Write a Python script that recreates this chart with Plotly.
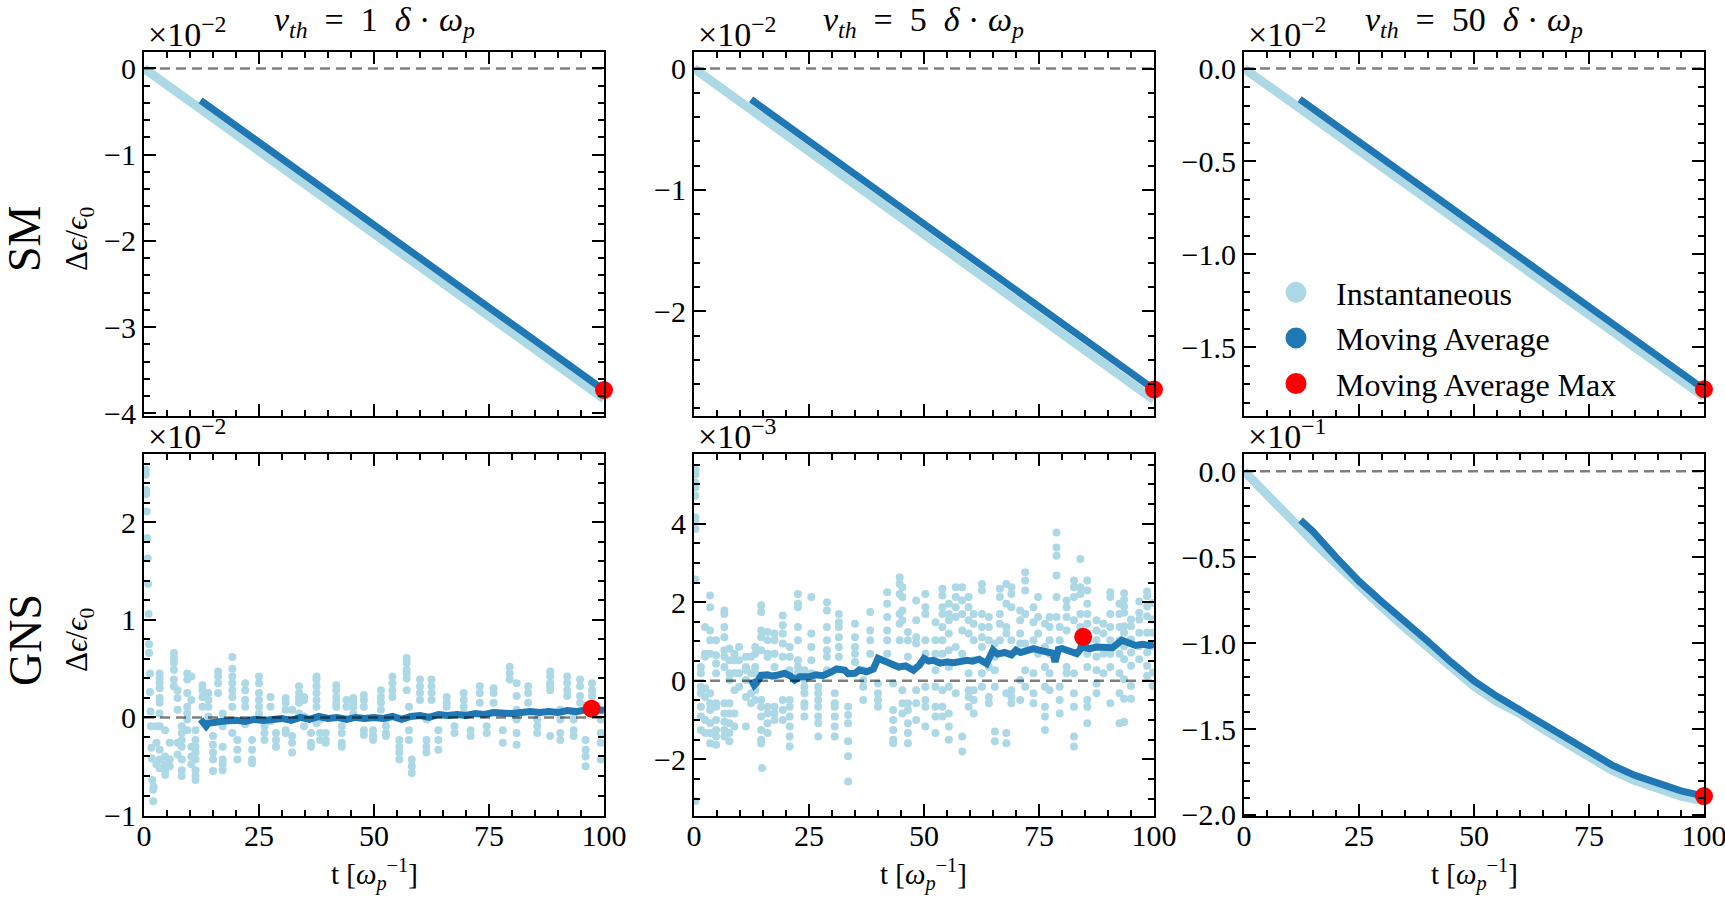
import plotly.graph_objects as go

FONT = "Liberation Serif"
C_INST = "#ADD8E6"
C_MA = "#1F77B4"
C_MAX = "#FF0000"
NB = "\u00a0"

# ---------------- data (values in units of the axis multiplier) ----------------
TIME_TICKS = [0, 25, 50, 75, 100]
COLUMN_TITLES = ["1", "5", "50"]
ROW_NAMES = ["SM", "GNS"]
EXPONENTS = ["−2", "−2", "−2", "−2", "−3", "−1"]

# SM, v_th = 1  (x 1e-2)
SM1_T = [0, 25, 50, 75, 100]
SM1_INST = [0.0, -0.96, -1.91, -2.87, -3.83]
SM1_MA_T = [12.3, 25, 50, 75, 100]
SM1_MA = [-0.37, -0.86, -1.82, -2.77, -3.73]
SM1_MAX = (100, -3.73)

# SM, v_th = 5  (x 1e-2)
SM5_T = [0, 25, 50, 75, 100]
SM5_INST = [0.0, -0.68, -1.36, -2.05, -2.73]
SM5_MA_T = [12.4, 25, 50, 75, 100]
SM5_MA = [-0.255, -0.60, -1.28, -1.96, -2.644]
SM5_MAX = (100, -2.644)

# SM, v_th = 50  (x 1e-2)
SM50_T = [0, 25, 50, 75, 100]
SM50_INST = [0.0, -0.44, -0.88, -1.32, -1.765]
SM50_MA_T = [12.1, 25, 50, 75, 100]
SM50_MA = [-0.165, -0.394, -0.838, -1.282, -1.726]
SM50_MAX = (100, -1.726)

# GNS, v_th = 1  (x 1e-2): instantaneous samples grouped by time
GNS1_INST = [
    (0.4, [2.54, 2.49]), (0.5, [2.33, 2.29]), (0.6, [2.11]), (0.7, [1.84]), (0.8, [1.63]),
    (0.9, [1.37]), (1.0, [1.06]), (1.1, [0.75, 0.66]), (1.3, [0.45, 0.26]), (1.4, [0.06]),
    (1.5, [-0.09]), (1.6, [-0.31]), (1.7, [-0.42]), (1.8, [-0.64]), (2.0, [-0.74, -0.86]),
    (2.1, [-0.71]), (2.7, [-0.09, -0.26, -0.48]),
    (3.4, [0.45, 0.40, 0.35, 0.30, 0.20, 0.15, 0.04, -0.09, -0.33, -0.43, -0.52]),
    (4.6, [-0.13, -0.40, -0.48, -0.54, -0.59]), (5.6, [-0.26, -0.43, -0.50]),
    (6.5, [0.66, 0.61, 0.56, 0.49, 0.39, 0.32]), (7.3, [0.28, 0.20, 0.08, -0.26, -0.38]),
    (8.2, [-0.09, -0.16, -0.23, -0.30, -0.43, -0.54, -0.60]),
    (9.4, [0.45, 0.39, 0.25, 0.11, 0.04, -0.02, -0.13]), (10.3, [0.42, 0.18, -0.30, -0.40, -0.48]),
    (11.2, [-0.13, -0.23, -0.30, -0.36, -0.43, -0.54, -0.60, -0.64]),
    (12.7, [0.33, 0.28, 0.21, 0.11]), (14.0, [0.25, 0.18, 0.11, 0.01]),
    (15.0, [-0.19, -0.28, -0.36, -0.43, -0.55]), (16.1, [0.47, 0.42, 0.35, 0.25]),
    (17.1, [0.04, -0.09, -0.30, -0.43, -0.48, -0.54]),
    (19.2, [0.62, 0.50, 0.42, 0.35, 0.28, 0.21, 0.11, -0.16]), (20.3, [-0.23, -0.33, -0.43]),
    (22.0, [0.35, 0.28, 0.18, 0.11, -0.07]), (23.5, [-0.23, -0.33, -0.43, -0.47]),
    (25.0, [0.42, 0.35, 0.25, 0.18, 0.11, 0.04]), (26.2, [-0.09, -0.16, -0.23]),
    (27.5, [0.21, 0.11, -0.04]), (28.7, [-0.16, -0.23, -0.30]),
    (30.8, [0.20, 0.15, 0.08, -0.13, -0.16]), (32.2, [0.08, -0.19, -0.26, -0.36]),
    (33.7, [0.32, 0.25, 0.20, 0.15, 0.04]), (34.8, [0.21, 0.18, 0.01, -0.09]),
    (36.3, [-0.16, -0.26, -0.30]),
    (37.5, [0.42, 0.39, 0.32, 0.25, 0.18, 0.11, -0.06]), (38.3, [-0.02, -0.16, -0.23]),
    (39.5, [-0.16, -0.23, -0.26]), (41.8, [0.33, 0.28, 0.21, 0.15, 0.11]),
    (43.0, [-0.09, -0.16, -0.26, -0.30]), (44.0, [0.18, 0.11]),
    (45.5, [0.20, 0.15, 0.11, 0.04]), (47.8, [0.23, 0.18, 0.11, -0.13, -0.18]),
    (49.8, [-0.13, -0.19, -0.23]), (51.5, [0.28, 0.21, 0.15, 0.08]),
    (52.6, [-0.02, -0.09, -0.16, -0.19]), (54.0, [0.42, 0.35, 0.28, 0.21]),
    (55.5, [-0.23, -0.30, -0.36, -0.43]), (57.1, [0.61, 0.56, 0.49, 0.45, 0.40, 0.28]),
    (57.6, [0.11, -0.13, -0.23]), (58.2, [-0.43, -0.50, -0.57]),
    (60.0, [0.39, 0.32, 0.25, 0.18]), (61.4, [-0.02, -0.23, -0.30, -0.36]),
    (62.5, [0.39, 0.32, 0.25, 0.18]), (64.0, [-0.13, -0.23, -0.33]),
    (65.8, [0.21, 0.15, 0.11]), (67.5, [-0.09, -0.16]), (69.5, [0.25, 0.18, 0.11, 0.04]),
    (71.0, [-0.13, -0.19]), (73.0, [0.32, 0.25, 0.15]), (74.5, [-0.09, -0.16]),
    (76.0, [0.30, 0.25, 0.15]), (78.0, [-0.13, -0.26]), (79.5, [0.52, 0.45, 0.39]),
    (81.0, [0.35, 0.22, 0.08, -0.02, -0.16, -0.28]), (83.5, [0.32, 0.25, 0.15]),
    (85.5, [-0.02, -0.09, -0.16]), (88.3, [0.47, 0.42, 0.35, 0.32, 0.28, -0.19]),
    (90.5, [0.08, -0.02, -0.16, -0.23]), (92.0, [0.42, 0.35, 0.28, 0.22]),
    (93.4, [0.04, -0.02, -0.13, -0.19]), (94.8, [0.39, 0.32, 0.22, 0.15]),
    (96.0, [-0.23, -0.33, -0.40, -0.50]), (97.4, [0.35, 0.28, 0.22, 0.15]),
    (99.3, [0.08, -0.02, -0.16, -0.26, -0.43]),
]
GNS1_MA_T = [12.3, 13.0, 13.5, 14, 15, 17, 20, 22, 24, 26, 28, 30, 32, 34, 36, 38, 40, 42, 44,
             46, 48, 50, 52, 54, 56, 58, 60, 62, 64, 66, 68, 70, 72, 74, 76, 78, 80, 82, 84, 86,
             88, 90, 92, 94, 96, 97.3, 100]
GNS1_MA = [-0.02, -0.07, -0.09, -0.06, -0.05, -0.04, -0.03, -0.04, -0.02, -0.03, -0.02, -0.01,
           -0.03, 0.0, -0.02, 0.01, -0.01, 0.0, -0.02, 0.0, -0.01, 0.0, -0.01, 0.01, -0.02, 0.01,
           0.02, 0.0, 0.03, 0.02, 0.03, 0.02, 0.04, 0.03, 0.05, 0.04, 0.04, 0.05, 0.06, 0.05, 0.06,
           0.05, 0.07, 0.06, 0.07, 0.09, 0.07]
GNS1_MAX = (97.3, 0.09)

# GNS, v_th = 5  (x 1e-3)
GNS5_INST = [
    (0.3, [5.37, 5.25, 5.04, 4.92, 4.71, 4.16, 4.07, 3.86, 2.58, -3.06]),
    (1.5, [0.35, 0.19, -0.15, -0.32, -0.66, -0.91, -1.25]),
    (2.4, [1.37, 0.69, 0.61, -0.19, -0.41, -1.00, -1.33]),
    (3.5, [2.17, 1.87, 1.28, 1.03, 0.69, -0.32, -0.57, -0.74, -1.08, -1.33, -1.59]),
    (4.8, [1.03, 0.65, 0.44, 0.19, -0.57, -0.66, -1.00, -1.25, -1.42, -1.63]),
    (6.6, [1.79, 1.70, 1.37, 1.11, 0.78, 0.61, 0.35, -0.57, -0.83, -1.04, -1.25, -1.42]),
    (7.7, [0.82, 0.52, 0.19, 0.02, -0.57, -0.83, -1.08, -1.33, -1.54]),
    (8.8, [0.69, 0.52, 0.19, -0.24, -0.83, -1.16]),
    (9.8, [0.86, 0.52, 0.19, -0.15]),
    (11.3, [0.61, 0.35, 0.27, 0.02, -0.41, -1.16]),
    (12.4, [0.61, 0.19, -0.32, -0.57]),
    (13.3, [0.86, 0.69, 0.35, 0.19, -0.24, -0.49]),
    (14.6, [1.92, 1.75, 1.28, 1.11, 0.78, -0.49, -0.66, -0.91, -1.25, -1.50, -1.59]),
    (14.8, [-2.22]),
    (16.0, [1.24, 1.03, 0.69, 0.61, -0.66, -0.83, -1.08, -1.33]),
    (17.5, [1.20, 1.03, 0.69, 0.35, -0.66, -0.83, -1.00]),
    (19.3, [1.66, 1.41, 1.20, 0.95, 0.61, -0.49, -0.74, -1.00]),
    (20.8, [0.86, 0.61, 0.27, -0.49, -0.66, -0.91, -1.16, -1.42, -1.67]),
    (22.6, [2.21, 1.96, 1.87, 1.37, 1.03, 0.52, 0.35, 0.19]),
    (24.0, [0.27, 0.02, -0.15, -0.32, -0.57, -0.66, -0.91]),
    (25.5, [2.13, 1.20, 0.86, 0.52, 0.19]),
    (27.0, [-0.15, -0.32, -0.49, -0.66, -0.91, -1.08, -1.42]),
    (28.9, [2.00, 1.79, 1.37, 1.03, 0.78, 0.61, 0.27]),
    (30.6, [-0.32, -0.57, -0.66, -0.91, -1.16, -1.42]),
    (31.5, [1.70, 1.49, 1.37, 1.11, 0.86, 0.61]),
    (33.5, [-0.66, -0.87, -1.08, -1.54, -1.92, -2.56]),
    (35.0, [1.45, 1.11, 0.86, 0.69, 0.48]),
    (36.8, [0.27, 0.02, -0.15, -0.49]),
    (38.3, [1.75, 1.28, 1.03, 0.69]),
    (40.0, [-0.07, -0.32, -0.49, -0.66]),
    (42.0, [2.25, 1.96, 1.62, 1.28, 1.03, 0.69]),
    (43.3, [-0.07, -0.74, -1.00, -1.25, -1.50, -1.59]),
    (44.7, [2.63, 2.46, 2.21, 1.70, 1.45, 1.03]),
    (45.3, [2.38, 2.13, 1.79, 1.54, -0.24, -0.57, -0.83]),
    (46.5, [1.24, 1.03, 0.61, -0.57, -0.74, -1.08, -1.33, -1.59]),
    (48.3, [2.04, 1.54, 1.11, 0.95, -0.24, -0.57, -1.00]),
    (50.3, [2.21, 1.87, 1.70, 1.03, 0.69, -0.15, -0.49, -0.66, -1.16]),
    (52.5, [1.49, 1.03, 0.69, 0.27, -0.15, -0.66, -0.91, -1.33]),
    (54.0, [2.34, 2.17, 1.87, 1.70, 1.37, 1.03, 0.69, -0.24, -0.66, -0.91]),
    (55.4, [1.96, 1.70, 1.54, 1.20, 0.78, 0.35, -0.15, -0.83, -1.16, -1.50]),
    (56.9, [2.38, 2.13, 1.87, 1.62, 0.86, -0.32]),
    (58.3, [2.38, 2.04, 1.70, 1.28, 0.69, -1.42, -1.80]),
    (59.7, [2.13, 1.87, 1.54, 1.20, 0.19, -0.24, -0.41, -0.66]),
    (60.8, [1.70, 1.45, 1.03, 0.52, -0.24, -0.49, -0.83]),
    (62.6, [2.46, 2.30, 1.70, 1.37, 1.11, 0.86, 0.19, -0.15]),
    (64.1, [1.62, 1.37, 1.03, 0.35, -0.41, -0.57]),
    (65.4, [0.95, 0.61, 0.27, -0.15, -1.29, -1.54]),
    (66.5, [2.34, 2.13, 1.70, 1.45, 1.03]),
    (67.9, [2.46, 1.96, 1.37, 1.20, -0.32, -1.33, -1.59]),
    (69.0, [2.38, 2.21, 1.87, 1.03, 0.69, -0.24, -0.41, -0.57]),
    (70.9, [1.79, 1.54, 1.20, 0.95, 0.02, -0.49]),
    (72.0, [2.76, 2.55, 2.30, 1.70, 0.95, 0.27, -0.15]),
    (73.8, [1.87, 1.49, 1.03, 0.19, -0.32, -0.57]),
    (74.8, [2.13, 1.62, 1.20, 0.69]),
    (76.3, [1.45, 0.86, 0.35, -0.15, -0.66, -0.91, -1.25]),
    (77.3, [1.62, 1.37, 1.03, 0.69, 0.19, -0.24]),
    (78.8, [3.77, 3.39, 3.18, 2.68, 2.13, 1.62]),
    (79.5, [1.37, 1.03, -0.15, -0.49, -0.83]),
    (81.0, [2.04, 1.87, 1.62, 1.28, 0.35, 0.19]),
    (82.6, [2.55, 2.38, 2.13, 1.54, 0.19, -0.32, -0.66, -1.42, -1.67]),
    (84.0, [3.10, 2.38, 2.21, 1.70, 1.37]),
    (85.5, [2.55, 2.30, 1.96, 1.70, 1.45, 1.03, 0.69, 0.35, -0.49, -0.66, -1.08]),
    (87.5, [1.54, 1.28, 1.03, 0.61, 0.27, -0.07, -0.32]),
    (89.0, [1.45, 1.20, 0.69, 0.19]),
    (90.5, [2.25, 2.13, 1.70, 1.37, 1.03, 0.69, 0.35, -0.57]),
    (92.5, [1.96, 1.70, 1.37, 1.03, 0.69, 0.19, -0.32, -1.08]),
    (93.5, [2.23, 2.06, 1.89, 1.73, 1.39, 1.22, 0.88, 0.55, 0.04, -0.46, -1.05]),
    (95.0, [1.56, 1.39, 1.05, 0.72, 0.38, -0.13, -0.46]),
    (96.8, [2.02, 1.73, 1.56, 1.22, 0.88, 0.55]),
    (98.5, [2.27, 2.15, 1.89, 1.64, 1.22, 0.72, 0.38, 0.13]),
    (99.7, [1.98, 1.56, 1.22, 0.88, 0.21, -0.13]),
]
GNS5_MA_T = [12.5, 13.1, 13.6, 14.6, 16, 17, 18, 19.7, 21, 21.9, 23, 25, 26.5, 28, 29.9, 31,
             32.8, 33.5, 35, 36, 37.5, 39, 40, 41, 42.3, 43.5, 44.5, 46, 47.7, 49, 50, 51, 52,
             53.5, 55, 56.5, 58, 59.3, 60.5, 62, 63.6, 65, 66, 67.5, 69, 70, 71, 72.5, 73.8, 75,
             76.7, 78, 78.5, 79.2, 80, 81.5, 83.2, 84, 84.6, 85.2, 86, 87.5, 89.7, 91, 93, 94.5,
             96, 97.5, 99, 100]
GNS5_MA = [0.02, -0.11, -0.05, 0.14, 0.15, 0.12, 0.14, 0.19, 0.12, 0.02, 0.10, 0.10, 0.15, 0.13,
           0.23, 0.30, 0.27, 0.18, 0.19, 0.28, 0.23, 0.30, 0.57, 0.52, 0.44, 0.40, 0.35, 0.38,
           0.27, 0.40, 0.57, 0.50, 0.52, 0.45, 0.48, 0.46, 0.50, 0.52, 0.50, 0.55, 0.44, 0.78,
           0.68, 0.72, 0.66, 0.78, 0.72, 0.76, 0.82, 0.78, 0.73, 0.70, 0.48, 0.80, 0.82, 0.74,
           0.69, 0.80, 1.11, 0.84, 0.82, 0.86, 0.86, 0.84, 1.03, 0.95, 0.90, 0.93, 0.90, 0.93]
GNS5_MAX = (84.6, 1.12)

# GNS, v_th = 50  (x 1e-1)
GNS50_T = [0, 5, 10, 12.5, 15, 20, 25, 30, 35, 40, 45, 50, 55, 60, 65, 70, 75, 80, 85, 90, 95, 100]
GNS50_INST = [0.0, -0.13, -0.27, -0.34, -0.41, -0.54, -0.67, -0.79, -0.91, -1.02, -1.14, -1.25,
              -1.34, -1.41, -1.50, -1.58, -1.67, -1.74, -1.80, -1.85, -1.89, -1.92]
GNS50_MA_T = [12.3, 15, 20, 25, 30, 35, 40, 45, 50, 55, 60, 65, 70, 75, 80, 85, 90, 95, 100]
GNS50_MA = [-0.285, -0.35, -0.50, -0.64, -0.76, -0.87, -0.99, -1.11, -1.22, -1.31, -1.39, -1.47,
            -1.56, -1.64, -1.71, -1.77, -1.82, -1.86, -1.89]
GNS50_MAX = (100, -1.89)

# ---------------- axis settings per panel ----------------
Y_RANGES = [[-4.03, 0.19], [-2.863, 0.136], [-1.87, 0.089],
            [-1.01, 2.70], [-3.44, 5.77], [-2.006, 0.10]]
Y_TICKS = [[0, -1, -2, -3, -4], [0, -1, -2], [0, -0.5, -1.0, -1.5],
           [-1, 0, 1, 2], [-2, 0, 2, 4], [0, -0.5, -1.0, -1.5, -2.0]]
Y_FMT = ["", "", ".1f", "", "", ".1f"]
Y_MINOR = [0.2, 0.2, 0.1, 0.2, 0.5, 0.1]

W, H = 1725, 898
COL_PX = [(144, 604), (694, 1154), (1244, 1704)]
ROW_PX = [(52, 416), (454, 816)]


def flatten(groups):
    xs, ys = [], []
    for t, vals in groups:
        for v in vals:
            xs.append(t)
            ys.append(v)
    return xs, ys


fig = go.Figure()


def add_panel(i, inst_x, inst_y, inst_mode, ma_x, ma_y, mx):
    xa, ya = ("x" if i == 1 else f"x{i}"), ("y" if i == 1 else f"y{i}")
    if inst_mode == "markers":
        fig.add_trace(go.Scatter(x=inst_x, y=inst_y, mode="markers", xaxis=xa, yaxis=ya,
                                 marker=dict(color=C_INST, size=8, line=dict(width=0)),
                                 showlegend=False))
    else:
        fig.add_trace(go.Scatter(x=inst_x, y=inst_y, mode="lines", xaxis=xa, yaxis=ya,
                                 line=dict(color=C_INST, width=9), showlegend=False))
    fig.add_trace(go.Scatter(x=ma_x, y=ma_y, mode="lines", xaxis=xa, yaxis=ya,
                             line=dict(color=C_MA, width=7), showlegend=False))
    fig.add_trace(go.Scatter(x=[TIME_TICKS[0], TIME_TICKS[-1]], y=[0, 0], mode="lines",
                             xaxis=xa, yaxis=ya,
                             line=dict(color="rgba(0,0,0,0.5)", width=2.5, dash="10px,6px"),
                             showlegend=False))
    fig.add_trace(go.Scatter(x=[mx[0]], y=[mx[1]], mode="markers", xaxis=xa, yaxis=ya,
                             marker=dict(color=C_MAX, size=18), showlegend=False,
                             cliponaxis=False))


add_panel(1, SM1_T, SM1_INST, "lines", SM1_MA_T, SM1_MA, SM1_MAX)
add_panel(2, SM5_T, SM5_INST, "lines", SM5_MA_T, SM5_MA, SM5_MAX)
add_panel(3, SM50_T, SM50_INST, "lines", SM50_MA_T, SM50_MA, SM50_MAX)
g1x, g1y = flatten(GNS1_INST)
add_panel(4, g1x, g1y, "markers", GNS1_MA_T, GNS1_MA, GNS1_MAX)
g5x, g5y = flatten(GNS5_INST)
add_panel(5, g5x, g5y, "markers", GNS5_MA_T, GNS5_MA, GNS5_MAX)
add_panel(6, GNS50_T, GNS50_INST, "lines", GNS50_MA_T, GNS50_MA, GNS50_MAX)

# legend-only entries (shown in the top-right panel)
for k, (name, col) in enumerate([("Instantaneous", C_INST), ("Moving Average", C_MA),
                                 ("Moving Average Max", C_MAX)]):
    fig.add_trace(go.Scatter(x=[None], y=[None], mode="markers", name=name, xaxis="x3", yaxis="y3",
                             legendgroup=f"g{k}",
                             marker=dict(color=col, size=16, line=dict(color=col, width=5))))

tickfont = dict(family=FONT, size=30, color="black")
layout = dict(width=W, height=H, template="none",
              margin=dict(l=0, r=0, t=0, b=0, autoexpand=False),
              paper_bgcolor="white", plot_bgcolor="white",
              font=dict(family=FONT, color="black", size=28),
              showlegend=True,
              legend=dict(x=1256 / W, y=1 - 265 / H, xanchor="left", yanchor="top",
                          bgcolor="rgba(0,0,0,0)", borderwidth=0,
                          font=dict(family=FONT, size=32, color="black"),
                          tracegroupgap=1, itemwidth=70))

for i in range(1, 7):
    r, c = (i - 1) // 3, (i - 1) % 3
    x0, x1 = COL_PX[c]
    ytop, ybot = ROW_PX[r]
    xd = [x0 / W, x1 / W]
    yd = [1 - ybot / H, 1 - ytop / H]
    sfx = "" if i == 1 else str(i)
    layout[f"xaxis{sfx}"] = dict(
        domain=xd, anchor=f"y{sfx}", range=[0, 100], tickmode="array", tickvals=TIME_TICKS,
        ticks="inside", ticklen=12, tickwidth=2, tickcolor="black", showline=True,
        linecolor="black", linewidth=2, mirror="ticks", showgrid=False, zeroline=False,
        automargin=False, showticklabels=(r == 1), tickfont=tickfont,
        ticklabeloverflow="allow", ticklabelstandoff=-8,
        minor=dict(tickmode="linear", tick0=0, dtick=5, ticks="inside", ticklen=6,
                   tickwidth=1.5, tickcolor="black", showgrid=False))
    layout[f"yaxis{sfx}"] = dict(
        domain=yd, anchor=f"x{sfx}", range=Y_RANGES[i - 1], tickmode="array",
        tickvals=Y_TICKS[i - 1], tickformat=Y_FMT[i - 1],
        ticks="inside", ticklen=12, tickwidth=2, tickcolor="black", showline=True,
        linecolor="black", linewidth=2, mirror="ticks", showgrid=False, zeroline=False,
        automargin=False, tickfont=tickfont, ticklabeloverflow="allow",
        minor=dict(tickmode="linear", tick0=0, dtick=Y_MINOR[i - 1], ticks="inside", ticklen=6,
                   tickwidth=1.5, tickcolor="black", showgrid=False))

fig.update_layout(**layout)

ann = []
for c in range(3):
    x0, x1 = COL_PX[c]
    xc = (x0 + x1) / 2 / W
    title = (f"<i>v</i><sub><i>th</i></sub>{NB}{NB}={NB}{NB}{COLUMN_TITLES[c]}{NB}{NB}"
             f"<i>δ</i>{NB}·{NB}<i>ω</i><sub><i>p</i></sub>")
    ann.append(dict(text=title, x=xc, y=1 - 22 / H, xref="paper", yref="paper",
                    xanchor="center", yanchor="middle", showarrow=False,
                    font=dict(family=FONT, size=34)))
    ann.append(dict(text=f"t{NB}[<i>ω</i><sub><i>p</i></sub><sup>−1</sup>]",
                    x=xc, y=1 - 852 / H, xref="paper", yref="paper", xanchor="center",
                    yanchor="top", showarrow=False, font=dict(family=FONT, size=29)))
for i in range(6):
    r, c = i // 3, i % 3
    x0, _ = COL_PX[c]
    ytop, _ = ROW_PX[r]
    ann.append(dict(text=f"×10<sup>{EXPONENTS[i]}</sup>", x=(x0 + 2) / W, y=1 - (ytop + 3) / H,
                    xref="paper", yref="paper", xanchor="left", yanchor="bottom",
                    showarrow=False, font=dict(family=FONT, size=34)))
for r in range(2):
    ytop, ybot = ROW_PX[r]
    yc = 1 - ((ytop + ybot) / 2 + 5) / H
    ann.append(dict(text=ROW_NAMES[r], x=25 / W, y=yc, xref="paper", yref="paper",
                    xanchor="center", yanchor="middle", textangle=-90, showarrow=False,
                    font=dict(family=FONT, size=46)))
    ann.append(dict(text="Δ<i>ϵ</i>/<i>ϵ</i><sub>0</sub>", x=79 / W, y=yc, xref="paper",
                    yref="paper", xanchor="center", yanchor="middle", textangle=-90,
                    showarrow=False, font=dict(family=FONT, size=31)))
fig.update_layout(annotations=ann)

fig.write_html("out.html")
